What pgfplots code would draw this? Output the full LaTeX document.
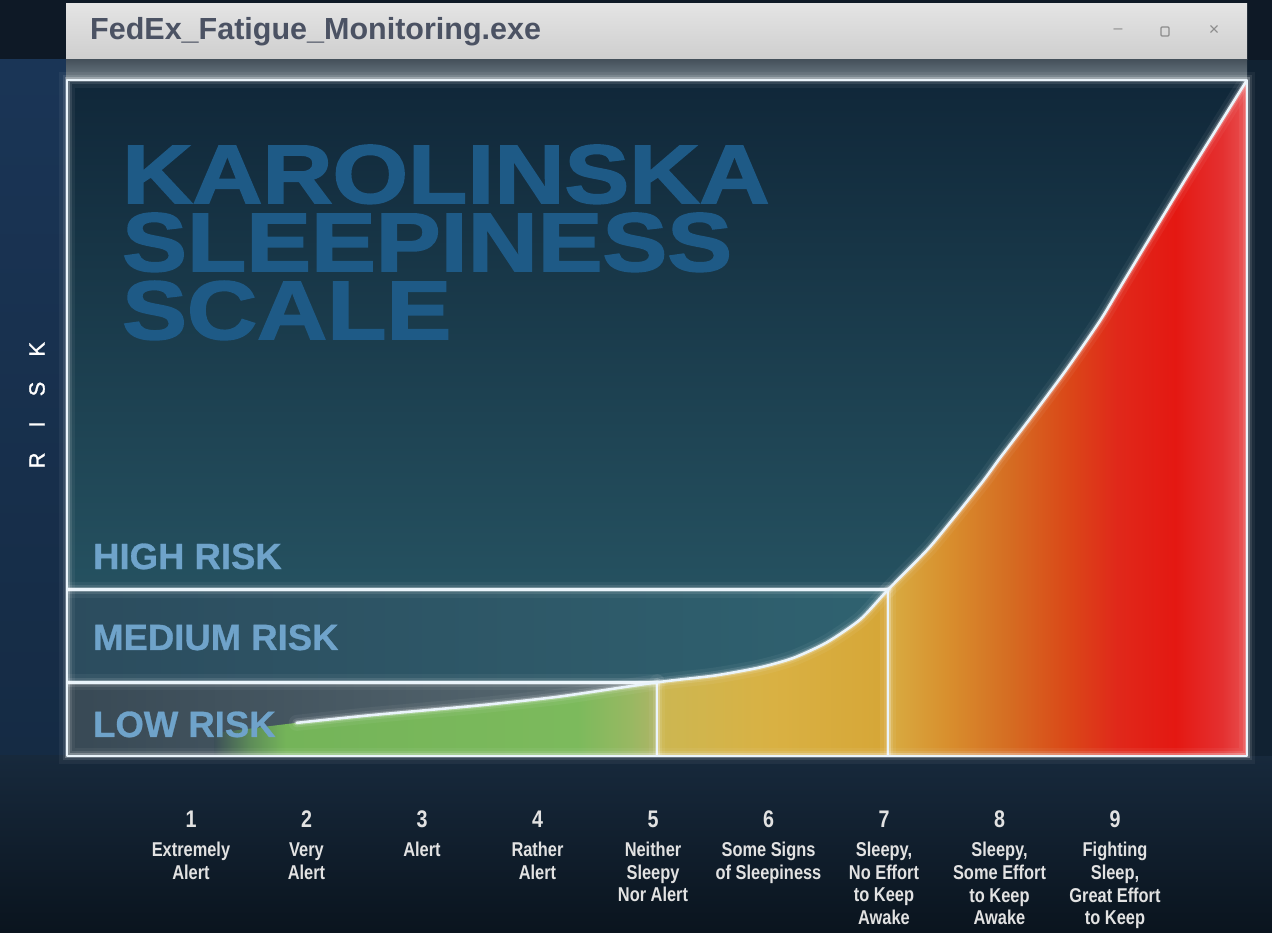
\documentclass[border=0pt]{standalone}
\usepackage{pgfplots}
\pgfplotsset{compat=1.18}
\usepackage{pgfplotstable}
\usepackage{fontspec}
\setmainfont{Liberation Sans}
\newfontfamily\narrowfont{Liberation Sans Bold}[FakeStretch=0.82]
\newfontfamily\heavyfont{Liberation Sans Bold}[FakeBold=2,FakeStretch=1.17]
\newfontfamily\boldfont{Liberation Sans Bold}
\newfontfamily\riskfont{Liberation Sans Bold}[FakeBold=0.8]
\newfontfamily\labelfont{Liberation Sans}[FakeBold=1]

\definecolor{bgc}{HTML}{0E1926}
\definecolor{leftT}{HTML}{1A3556}
\definecolor{leftB}{HTML}{152B44}
\definecolor{botT}{HTML}{17293C}
\definecolor{botB}{HTML}{0A141E}
\definecolor{rightc}{HTML}{112232}
\definecolor{barT}{HTML}{E4E4E4}
\definecolor{barB}{HTML}{CECECE}
\definecolor{bandT}{HTML}{46525C}
\definecolor{bandB}{HTML}{6E7C86}
\definecolor{btnc}{HTML}{8C8C8C}
\definecolor{bgtop}{HTML}{102739}
\definecolor{bgmid}{HTML}{1B4858}
\definecolor{bgbot}{HTML}{2C5F6D}
\definecolor{medL}{HTML}{2C4C5E}
\definecolor{medR}{HTML}{2F6270}
\definecolor{lowL}{HTML}{384955}
\definecolor{lowR}{HTML}{5A6B73}
\definecolor{gA0}{HTML}{3D5058}
\definecolor{gA1}{HTML}{5D8C58}
\definecolor{gA2}{HTML}{74B459}
\definecolor{gA3}{HTML}{7CBA5C}
\definecolor{gA4}{HTML}{98B862}
\definecolor{gA5}{HTML}{AEB466}
\definecolor{yB0}{HTML}{CCB752}
\definecolor{yB1}{HTML}{D9B143}
\definecolor{yB2}{HTML}{D6A637}
\definecolor{rC0}{HTML}{D8AC42}
\definecolor{rC1}{HTML}{D8902E}
\definecolor{rC2}{HTML}{D56C22}
\definecolor{rC3}{HTML}{DA4818}
\definecolor{rC4}{HTML}{E0281A}
\definecolor{rC5}{HTML}{E41812}
\definecolor{rC6}{HTML}{E43030}
\definecolor{rC7}{HTML}{E85050}
\definecolor{glowc}{HTML}{EAF4FB}
\definecolor{titlec}{HTML}{1E5A86}
\definecolor{riskc}{HTML}{6FA3CA}
\definecolor{tickc}{HTML}{E2E2E2}
\definecolor{barc}{HTML}{4B5263}

\pgfdeclarehorizontalshading{segA}{100bp}{color(0bp)=(gA0); color(25bp)=(gA0); color(29bp)=(gA1); color(33bp)=(gA2); color(66bp)=(gA3); color(72bp)=(gA4); color(75bp)=(gA5); color(100bp)=(gA5)}
\pgfdeclarehorizontalshading{segB}{100bp}{color(0bp)=(yB0); color(25bp)=(yB0); color(50bp)=(yB1); color(75bp)=(yB2); color(100bp)=(yB2)}
\pgfdeclarehorizontalshading{segC}{100bp}{color(0bp)=(rC0); color(25bp)=(rC0); color(33bp)=(rC1); color(42bp)=(rC2); color(50bp)=(rC3); color(57bp)=(rC4); color(65bp)=(rC5); color(71.5bp)=(rC6); color(75bp)=(rC7); color(100bp)=(rC7)}

\pgfplotstableread{
x y
1.17 0.34
1.88 0.49
2.50 0.60
3.47 0.75
4.16 0.88
5.00 1.09
5.50 1.19
5.89 1.31
6.18 1.45
6.47 1.68
6.76 2.02
7.00 2.46
7.34 3.05
7.54 3.46
7.82 4.06
7.97 4.41
8.26 5.06
8.55 5.73
8.84 6.45
9.04 7.02
9.57 8.52
10.108 10.00
}\curve

\tikzset{glow/.style={line cap=round, line join=round,
  preaction={draw=white, draw opacity=0.05, line width=16pt},
  preaction={draw=white, draw opacity=0.10, line width=9pt},
  preaction={draw=white, draw opacity=0.25, line width=5pt},
  draw=glowc, line width=2.6pt}}

\newcommand\tn[1]{{\fontsize{24}{24}\selectfont #1}}

\begin{document}
\begin{tikzpicture}[x=1pt,y=1pt]
\useasboundingbox (0,0) rectangle (1272,933);
% background
\fill[bgc] (0,0) rectangle (1272,933);
\shade[top color=leftT, bottom color=leftB] (0,177) rectangle (66,873);
\shade[top color=botT, bottom color=botB] (0,0) rectangle (1272,177);
\fill[rightc] (1247,177) rectangle (1272,873);
% window title bar
\shade[top color=barT, bottom color=barB] (66,873) rectangle (1247,929);
\shade[top color=bandT, bottom color=bandB] (66,853) rectangle (1247,873);
\node[anchor=base west, inner sep=0pt, font=\boldfont\fontsize{30.5}{30}\selectfont, text=barc] at (90,893) {FedEx\_Fatigue\_Monitoring.exe};
\node[font=\fontsize{16}{16}\selectfont, text=btnc] at (1118,902) {–};
\draw[btnc, line width=1.2pt, rounded corners=1pt] (1161,897) rectangle (1169,906);
\node[font=\fontsize{18}{18}\selectfont, text=btnc] at (1214,902) {×};

\begin{axis}[
  name=ax,
  at={(67pt,177pt)}, anchor=south west,
  width=1180pt, height=676pt, scale only axis,
  xmin=-0.108, xmax=10.108, ymin=0, ymax=10,
  axis line style={draw=none},
  axis background/.style={shade, top color=bgtop, middle color=bgmid, bottom color=bgbot},
  major tick length=0pt,
  ytick=\empty,
  xtick={1,...,9},
  xticklabels={
    {\tn{1}\\[6pt]Extremely\\Alert},
    {\tn{2}\\[6pt]Very\\Alert},
    {\tn{3}\\[6pt]Alert},
    {\tn{4}\\[6pt]Rather\\Alert},
    {\tn{5}\\[6pt]Neither\\Sleepy\\Nor Alert},
    {\tn{6}\\[6pt]Some Signs\\of Sleepiness},
    {\tn{7}\\[6pt]Sleepy,\\No Effort\\to Keep\\Awake},
    {\tn{8}\\[6pt]Sleepy,\\Some Effort\\to Keep\\Awake},
    {\tn{9}\\[6pt]Fighting\\Sleep,\\Great Effort\\to Keep}},
  xticklabel style={font=\narrowfont\fontsize{20}{22.7}\selectfont, text=tickc, align=center, anchor=north, inner sep=0pt, yshift=-55pt, xshift=-4pt},
  ylabel={R\hspace{25pt}I\hspace{25pt}S\hspace{25pt}K},
  ylabel style={at={(axis description cs:-0.0254,0.519)}, anchor=center, font=\labelfont\fontsize{22}{22}\selectfont, text=white},
]
% risk bands
\addplot[draw=none, left color=medL, right color=medR] coordinates {(-0.108,2.46) (7,2.46)} \closedcycle;
\addplot[draw=none, left color=lowL, right color=lowR] coordinates {(-0.108,1.09) (5,1.09)} \closedcycle;
% title
\node[anchor=base west, inner sep=0pt, font=\heavyfont\fontsize{83}{83}\selectfont, text=titlec] at (axis description cs:0.0466,0.8181) {KAROLINSKA};
\node[anchor=base west, inner sep=0pt, font=\heavyfont\fontsize{83}{83}\selectfont, text=titlec] at (axis description cs:0.0466,0.7175) {SLEEPINESS};
\node[anchor=base west, inner sep=0pt, font=\heavyfont\fontsize{83}{83}\selectfont, text=titlec] at (axis description cs:0.0466,0.6168) {SCALE};
% curve fills
\addplot[draw=none, smooth, tension=0.4, shade, shading=segA, restrict x to domain=1:5] table[x=x,y=y] {\curve} \closedcycle;
\addplot[draw=none, smooth, tension=0.4, shade, shading=segB, restrict x to domain=5:7] table[x=x,y=y] {\curve} \closedcycle;
\addplot[draw=none, smooth, tension=0.4, shade, shading=segC, restrict x to domain=7:10.2] table[x=x,y=y] {\curve} \closedcycle;
% dividers
\addplot[glow] coordinates {(-0.2,1.09) (5,1.09)};
\addplot[glow] coordinates {(-0.2,2.46) (7,2.46)};
\addplot[glow] coordinates {(5,-0.2) (5,1.09)};
\addplot[glow] coordinates {(7,-0.2) (7,2.46)};
% curve
\addplot[glow, smooth, tension=0.4, restrict x to domain=1.85:10.2] table[x=x,y=y] {\curve};
% risk labels
\node[anchor=base west, inner sep=0pt, font=\riskfont\fontsize{36.5}{37}\selectfont, text=riskc] at (axis description cs:0.022,0.2766) {HIGH RISK};
\node[anchor=base west, inner sep=0pt, font=\riskfont\fontsize{36.5}{37}\selectfont, text=riskc] at (axis description cs:0.022,0.1568) {MEDIUM RISK};
\node[anchor=base west, inner sep=0pt, font=\riskfont\fontsize{36.5}{37}\selectfont, text=riskc] at (axis description cs:0.022,0.0281) {LOW RISK};
\end{axis}
\draw[glow] (ax.south west) rectangle (ax.north east);
\end{tikzpicture}
\end{document}
